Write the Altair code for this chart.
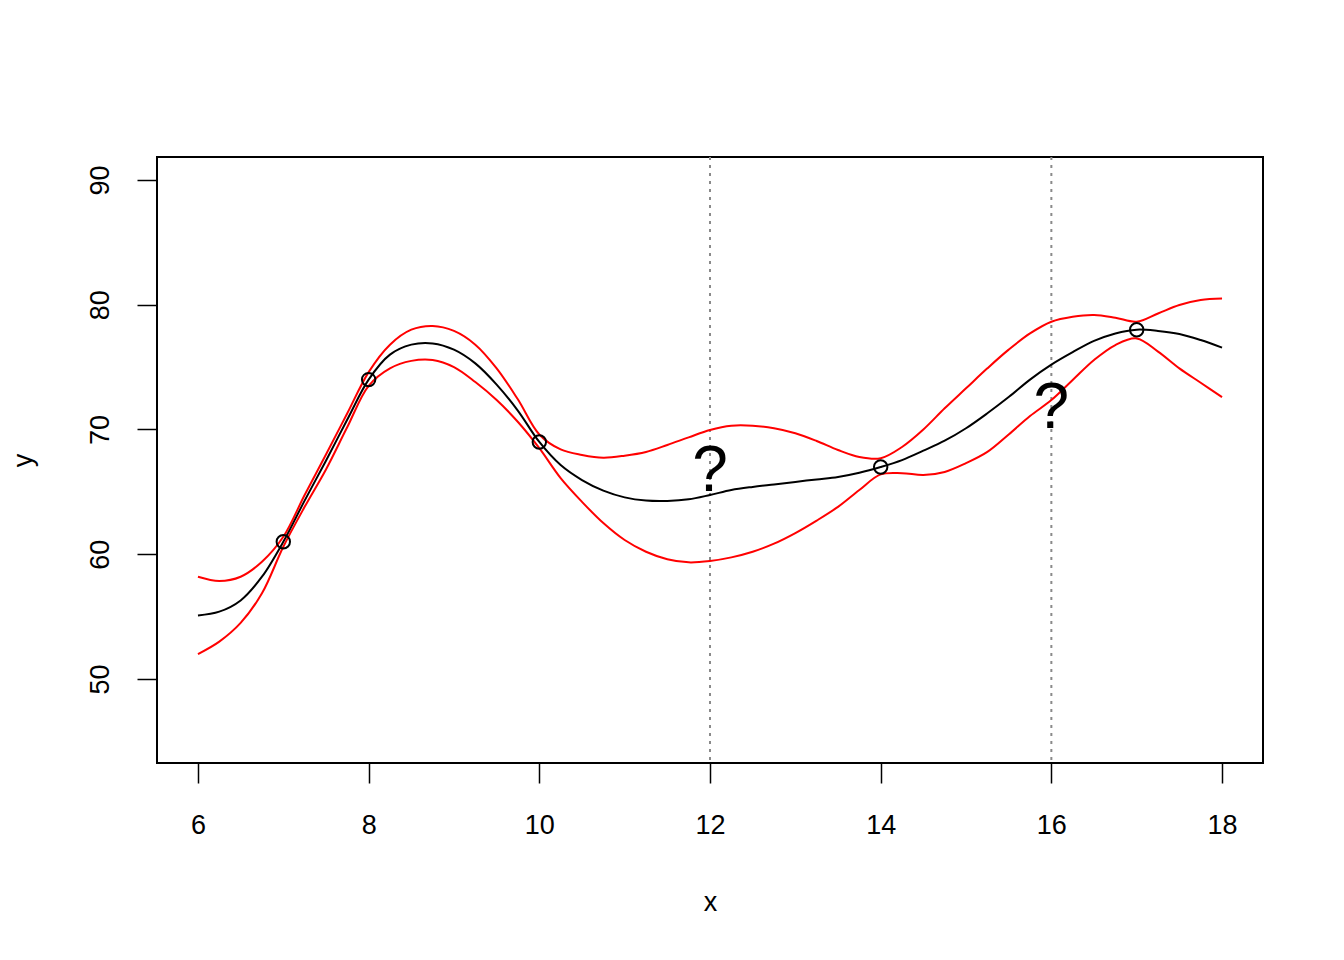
import altair as alt
import pandas as pd

# grid of x positions where the curves were read
xs = [6, 6.25, 6.5, 6.75, 7, 7.25, 7.5, 7.75, 8, 8.25, 8.5, 8.75, 9, 9.25, 9.5, 9.75,
      10, 10.25, 10.5, 10.75, 11, 11.25, 11.5, 11.75, 12, 12.25, 12.5, 12.75, 13, 13.25,
      13.5, 13.75, 14, 14.25, 14.5, 14.75, 15, 15.25, 15.5, 15.75, 16, 16.25, 16.5, 16.75,
      17, 17.25, 17.5, 17.75, 18]
mean_y = [55.1, 55.4, 56.3, 58.2, 61.0, 64.3, 67.5, 70.8, 74.0, 76.0, 76.8, 76.9, 76.4,
          75.3, 73.6, 71.5, 69.0, 67.15, 65.95, 65.1, 64.56, 64.3, 64.27, 64.4, 64.75, 65.15,
          65.4, 65.6, 65.8, 66.0, 66.2, 66.54, 67.0, 67.55, 68.3, 69.1, 70.1, 71.3, 72.6,
          74.0, 75.2, 76.2, 77.1, 77.7, 78.0, 77.9, 77.66, 77.17, 76.56]
upper_y = [58.2, 57.86, 58.2, 59.4, 61.4, 64.75, 68.0, 71.3, 74.6, 76.8, 78.0, 78.3, 77.9,
           76.8, 74.9, 72.4, 69.6, 68.4, 67.96, 67.74, 67.9, 68.2, 68.76, 69.37, 69.96, 70.3,
           70.3, 70.1, 69.7, 69.08, 68.36, 67.8, 67.7, 68.6, 70.0, 71.7, 73.3, 74.9, 76.4,
           77.7, 78.64, 79.04, 79.18, 78.96, 78.64, 79.3, 79.98, 80.38, 80.5]
lower_y = [52.0, 53.0, 54.5, 56.87, 60.6, 63.8, 66.8, 70.2, 73.5, 74.9, 75.5, 75.57, 75.0,
           73.8, 72.36, 70.6, 68.5, 66.1, 64.2, 62.5, 61.14, 60.2, 59.6, 59.35, 59.46, 59.75,
           60.2, 60.85, 61.7, 62.7, 63.8, 65.15, 66.4, 66.5, 66.35, 66.6, 67.3, 68.2, 69.6,
           71.08, 72.36, 73.97, 75.57, 76.77, 77.3, 76.24, 74.9, 73.75, 72.6]

obs_x = [7, 8, 10, 14, 17]
obs_y = [61, 74, 69, 67, 78]

query_x = [12, 16]
query_label_y = [65.05, 70.1]

x_ticks = [6, 8, 10, 12, 14, 16, 18]
y_ticks = [50, 60, 70, 80, 90]

FONT = "Liberation Sans"

rows = []
for name, ys in (("upper", upper_y), ("lower", lower_y), ("mean", mean_y)):
    for xv, yv in zip(xs, ys):
        rows.append({"x": xv, "y": yv, "series": name})
curves = pd.DataFrame(rows)
obs = pd.DataFrame({"x": obs_x, "y": obs_y})
queries = pd.DataFrame({"x": query_x, "y": query_label_y, "t": ["?"] * len(query_x)})

xscale = alt.Scale(domain=[5.52, 18.48], nice=False, zero=False)
yscale = alt.Scale(domain=[43.27, 91.84], nice=False, zero=False)

xaxis = alt.Axis(values=x_ticks, format="d", grid=False, domain=False, tickSize=20,
                 tickColor="black", tickWidth=1.5, labelFontSize=27, labelFont=FONT,
                 labelColor="black", labelPadding=50, labelBaseline="alphabetic",
                 labelFlush=False,
                 title="x", titleFont=FONT, titleFontSize=27, titleFontWeight="normal",
                 titleColor="black", titleX=553, titleY=147, titleBaseline="alphabetic",
                 titleAlign="center")
yaxis = alt.Axis(values=y_ticks, format="d", grid=False, domain=False, tickSize=20,
                 tickColor="black", tickWidth=1.5, labelFontSize=27, labelFont=FONT,
                 labelColor="black", labelAngle=270, labelAlign="center",
                 labelBaseline="alphabetic", labelPadding=29, labelFlush=False,
                 title="y", titleFont=FONT, titleFontSize=27, titleFontWeight="normal",
                 titleColor="black", titleAngle=270, titleX=-126, titleY=303,
                 titleAlign="center", titleBaseline="alphabetic")

lines = alt.Chart(curves).mark_line(interpolate="catmull-rom", strokeWidth=2).encode(
    x=alt.X("x:Q", scale=xscale, axis=xaxis),
    y=alt.Y("y:Q", scale=yscale, axis=yaxis),
    color=alt.Color("series:N", scale=alt.Scale(domain=["upper", "lower", "mean"],
                                                 range=["#ff0000", "#ff0000", "#000000"]),
                    legend=None),
    detail="series:N",
)

rules = alt.Chart(queries).mark_rule(color="#8a8a8a", strokeWidth=2, strokeDash=[3, 5]).encode(
    x=alt.X("x:Q", scale=xscale),
)

points = alt.Chart(obs).mark_point(shape="circle", filled=False, color="black",
                                   size=180, strokeWidth=2, opacity=1).encode(
    x=alt.X("x:Q", scale=xscale),
    y=alt.Y("y:Q", scale=yscale),
)

qmarks = alt.Chart(queries).mark_text(fontSize=64, font=FONT, baseline="alphabetic",
                                      align="center", color="black").encode(
    x=alt.X("x:Q", scale=xscale),
    y=alt.Y("y:Q", scale=yscale),
    text="t:N",
)

chart = alt.layer(rules, lines, points, qmarks).properties(
    width=1106, height=606,
    background="white",
    autosize=alt.AutoSizeParams(type="none"),
    padding={"left": 149, "top": 149, "right": 73, "bottom": 189},
).configure_view(stroke="black", strokeWidth=2)

chart.save("out.html", embed_options={"renderer": "svg", "actions": False})
